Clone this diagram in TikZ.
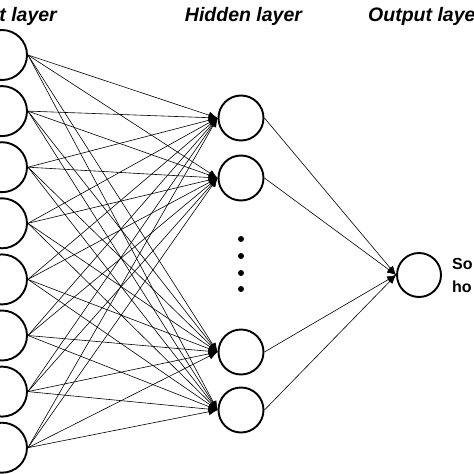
\documentclass[tikz,border=0pt]{standalone}
\usepackage{fontspec}
\setsansfont{Liberation Sans}
\usetikzlibrary{arrows.meta}

\begin{document}
\begin{tikzpicture}[x=1pt,y=-1pt,
  neuron/.style={draw,circle,line width=1.9pt,inner sep=0pt},
  title/.style={font=\sffamily\bfseries\itshape\fontsize{19.5}{21}\selectfont},
  link/.style={-{Latex[length=9pt,width=7pt]},line width=.6pt},
  blob/.style={fill,circle,inner sep=0pt,minimum size=6pt}]
\clip (0,0) rectangle (474,474);
% layer titles
\node[title,anchor=base west,inner sep=0pt] (tin) at (-42,21) {Input layer};
\node[title,anchor=base,inner sep=0pt] (thid) at (243.5,21) {Hidden layer};
\node[title,anchor=base west,inner sep=0pt] (tout) at (368,21) {Output layer};
% input layer
\foreach \i in {1,...,8}
  \node[neuron,minimum size=50pt] (in\i) at (2,{55+56.1*(\i-1)}) {};
% hidden layer
\node[neuron,minimum size=45pt] (h1) at (241,118) {};
\node[neuron,minimum size=45pt] (h2) at (241,178) {};
\node[neuron,minimum size=45pt] (h3) at (241,352) {};
\node[neuron,minimum size=45pt] (h4) at (241,410) {};
\foreach \y [count=\k] in {239,256,273,289}
  \node[blob] (d\k) at (241,\y) {};
% output layer
\node[neuron,minimum size=44pt] (out) at (419,275) {};
\node[anchor=west,align=left,inner sep=0pt,font=\sffamily\bfseries\fontsize{16}{23}\selectfont] (lab) at (out.east) [xshift=10pt] {So\\ho};
% connections
\foreach \i in {1,...,8}
  \foreach \j in {1,...,4}
    \draw[link] (in\i.east) -- (h\j.west);
\foreach \j in {1,...,4}
  \draw[link] (h\j.east) -- (out.west);
\end{tikzpicture}
\end{document}
